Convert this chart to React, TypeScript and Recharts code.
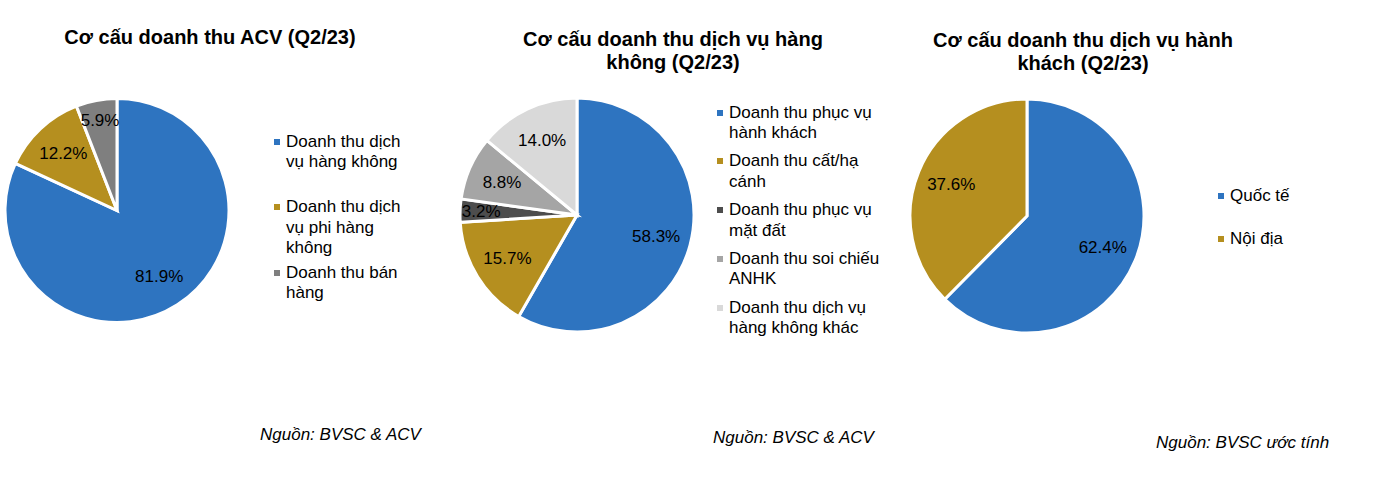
import React from 'react';
import { PieChart, Pie, Cell, Legend } from 'recharts';

// ACV revenue structure (Q2/23)
const acvCategories = ['Doanh thu dịch vụ hàng không', 'Doanh thu dịch vụ phi hàng không', 'Doanh thu bán hàng'];
const acvShares = [81.9, 12.2, 5.9];
const acvColors = ['#2E74C0', '#B58F1F', '#7F7F7F'];

// Aviation services revenue structure (Q2/23)
const aeroCategories = [
  'Doanh thu phục vụ hành khách',
  'Doanh thu cất/hạ cánh',
  'Doanh thu phục vụ mặt đất',
  'Doanh thu soi chiếu ANHK',
  'Doanh thu dịch vụ hàng không khác',
];
const aeroShares = [58.3, 15.7, 3.2, 8.8, 14.0];
const aeroColors = ['#2E74C0', '#B58F1F', '#4D4D4D', '#A5A5A5', '#D9D9D9'];

// Passenger services revenue structure (Q2/23)
const paxCategories = ['Quốc tế', 'Nội địa'];
const paxShares = [62.4, 37.6];
const paxColors = ['#2E74C0', '#B58F1F'];

const FONT = '"Liberation Sans", Arial, sans-serif';
const RAD = Math.PI / 180;

const toData = (names: string[], values: number[]) => names.map((name, i) => ({ name, value: values[i] }));

// small slices get their label pushed out toward the rim, like Excel does
const renderLabel = (props: any) => {
  const { cx, cy, midAngle, outerRadius, value } = props;
  const k = value < 7 ? 0.82 : 0.7;
  const r = outerRadius * k;
  const x = cx + r * Math.cos(-midAngle * RAD);
  const y = cy + r * Math.sin(-midAngle * RAD);
  return (
    <text x={x} y={y} fill="#000" fontSize={17} fontFamily={FONT} textAnchor="middle" dominantBaseline="central">
      {`${value.toFixed(1)}%`}
    </text>
  );
};

interface LegendOpts {
  names: string[];
  colors: string[];
  width: number;
  slot: number;
}

// legend keeps the slice order (recharts sorts its payload by name)
const makeLegend = ({ names, colors, width, slot }: LegendOpts) => (props: any) => {
  const payload = props.payload || [];
  const items = names.map((n, i) => {
    const found = payload.find((e: any) => e.value === n);
    return { value: n, color: colors[i] || (found && found.color) };
  });
  return (
    <div style={{ fontFamily: FONT, fontSize: 17, lineHeight: '20.5px', color: '#000' }}>
      {items.map((entry, i) => (
        <div key={`leg-${i}`} style={{ position: 'relative', height: slot, paddingLeft: 14 }}>
          <span
            style={{
              position: 'absolute',
              left: 2,
              top: 7,
              width: 6,
              height: 6,
              background: entry.color,
            }}
          />
          <div style={{ width }}>{entry.value}</div>
        </div>
      ))}
    </div>
  );
};

interface PanelProps {
  left: number;
  width: number;
  names: string[];
  values: number[];
  colors: string[];
  cx: number;
  cy: number;
  radius: number;
  legendLeft: number;
  legendTop: number;
  legendWidth: number;
  slot: number;
}

const PiePanel: React.FC<PanelProps> = (p) => {
  const data = toData(p.names, p.values);
  return (
    <div style={{ position: 'absolute', left: p.left, top: 0 }}>
      <PieChart width={p.width} height={483} margin={{ top: 0, right: 0, bottom: 0, left: 0 }}>
        <Pie
          data={data}
          dataKey="value"
          nameKey="name"
          cx={p.cx}
          cy={p.cy}
          outerRadius={p.radius}
          startAngle={90}
          endAngle={-270}
          stroke="#fff"
          strokeWidth={3}
          labelLine={false}
          label={renderLabel}
          isAnimationActive={false}
        >
          {data.map((entry, index) => (
            <Cell key={`cell-${index}`} fill={p.colors[index]} />
          ))}
        </Pie>
        <Legend
          layout="vertical"
          content={makeLegend({ names: p.names, colors: p.colors, width: p.legendWidth, slot: p.slot })}
          wrapperStyle={{ left: p.legendLeft, top: p.legendTop, width: p.legendWidth + 20, right: 'auto', bottom: 'auto' }}
        />
      </PieChart>
    </div>
  );
};

const titleStyle: React.CSSProperties = {
  position: 'absolute',
  width: 420,
  textAlign: 'center',
  fontFamily: FONT,
  fontWeight: 'bold',
  fontSize: 20,
  lineHeight: '23px',
  color: '#000',
};

const sourceStyle: React.CSSProperties = {
  position: 'absolute',
  fontFamily: FONT,
  fontStyle: 'italic',
  fontSize: 17,
  lineHeight: '20px',
  color: '#000',
  whiteSpace: 'nowrap',
};

export default function App() {
  return (
    <div style={{ position: 'absolute', left: 0, top: 0, width: 1381, height: 483, background: '#fff', overflow: 'hidden' }}>
      <PiePanel
        left={0}
        width={450}
        names={acvCategories}
        values={acvShares}
        colors={acvColors}
        cx={117}
        cy={210.5}
        radius={112}
        legendLeft={272}
        legendTop={131.5}
        legendWidth={125}
        slot={65.5}
      />
      <PiePanel
        left={455}
        width={460}
        names={aeroCategories}
        values={aeroShares}
        colors={aeroColors}
        cx={122}
        cy={215}
        radius={117}
        legendLeft={260}
        legendTop={102.5}
        legendWidth={162}
        slot={48.75}
      />
      <PiePanel
        left={910}
        width={471}
        names={paxCategories}
        values={paxShares}
        colors={paxColors}
        cx={117}
        cy={216}
        radius={117}
        legendLeft={306}
        legendTop={185.5}
        legendWidth={110}
        slot={43}
      />

      <div style={{ ...titleStyle, left: 210 - 210, top: 25.5 }}>Cơ cấu doanh thu ACV (Q2/23)</div>
      <div style={{ ...titleStyle, left: 673 - 210, top: 27.5 }}>
        Cơ cấu doanh thu dịch vụ hàng
        <br />
        không (Q2/23)
      </div>
      <div style={{ ...titleStyle, left: 1083 - 210, top: 28.5 }}>
        Cơ cấu doanh thu dịch vụ hành
        <br />
        khách (Q2/23)
      </div>

      <div style={{ ...sourceStyle, left: 260, top: 425 }}>Nguồn: BVSC &amp; ACV</div>
      <div style={{ ...sourceStyle, left: 713, top: 428 }}>Nguồn: BVSC &amp; ACV</div>
      <div style={{ ...sourceStyle, left: 1156, top: 433 }}>Nguồn: BVSC ước tính</div>
    </div>
  );
}
